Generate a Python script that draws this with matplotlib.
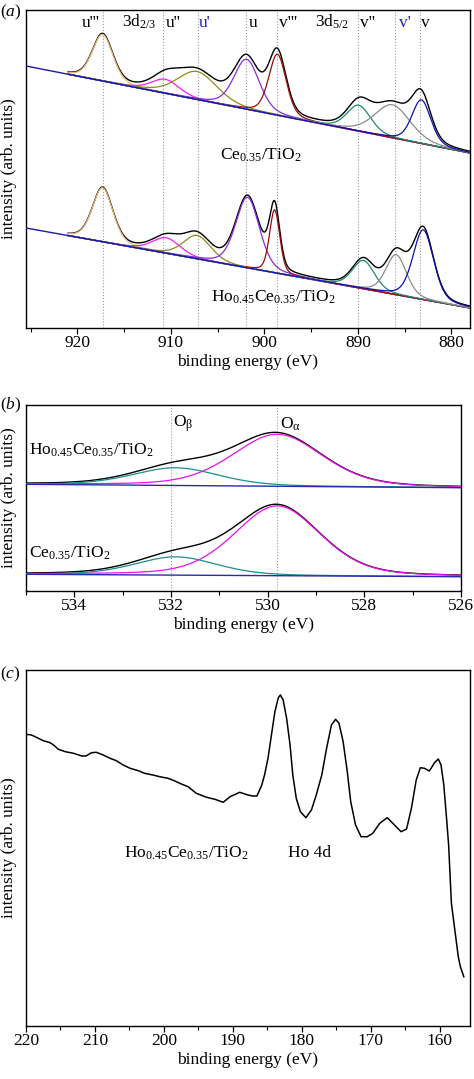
import numpy as np
import matplotlib.pyplot as plt
from matplotlib.ticker import MultipleLocator

plt.rcParams['font.family'] = ['Liberation Serif', 'DejaVu Serif']
plt.rcParams['mathtext.fontset'] = 'custom'
plt.rcParams['mathtext.rm'] = 'Liberation Serif'
plt.rcParams['mathtext.it'] = 'Liberation Serif:italic'
plt.rcParams['mathtext.bf'] = 'Liberation Serif:bold'

FS = 12.5

# ---- (a) Ce 3d: fitted components (centre eV, height, FWHM eV) ----
ce3d_names = ["u'''", "u''", "u'", "u", "v'''", "v''", "v'", "v"]
ce3d_colors = ['#ecb878', '#ff1aff', '#8c8c1e', '#8a2be2', '#9b0a0a', '#1e8c6a', '#8c8c8c', '#1010b0']
ce3d_lines = [917.3, 910.8, 907.1, 902.0, 898.6, 890.0, 886.0, 883.3]

ce_center = [917.3, 910.6, 907.2, 901.9, 898.6, 889.9, 886.3, 883.2]
ce_height = [46.6, 14, 28, 50, 61, 26, 33, 43.6]
ce_fwhm = [2.6, 3.5, 5.0, 3.2, 2.2, 3.0, 4.5, 2.4]
ce_base = [262, 175]          # background at 925.5 eV and 878 eV

ho_center = [917.3, 910.5, 907.2, 901.8, 898.9, 889.4, 885.9, 883.0]
ho_height = [54, 15.5, 23.4, 70.7, 63, 28.4, 40, 69.7]
ho_fwhm = [2.6, 3.5, 3.5, 3.0, 1.3, 2.8, 2.6, 2.6]
ho_base = [100, 20]

label_x = [918.6, 909.8, 906.4, 901.2, 897.5, 889.0, 885.0, 882.8]
label_col = ['k', 'k', '#1a1ad0', 'k', 'k', 'k', '#1a1ad0', 'k']

# ---- (b) O 1s ----
o1s_lines = [532.0, 529.8]
ho_o_center = [529.8, 531.9]
ho_o_height = [52, 17.7]
ho_o_fwhm = [2.2, 2.1]
ho_o_base = [106.7, 103.3]
ce_o_center = [529.8, 531.9]
ce_o_height = [69.8, 18.3]
ce_o_fwhm = [2.1, 2.0]
ce_o_base = [16.7, 14.3]
o1s_colors = ['#ee10ee', '#1f8f8a']

# ---- (c) Ho 4d raw spectrum ----
ho4d_energy = [220.0, 219.2, 218.2, 217.5, 216.5, 216.0, 215.3, 214.3, 213.1, 211.9,
               211.3, 210.5, 209.8, 208.8, 207.8, 206.9, 205.9, 204.9, 203.7, 202.8,
               201.6, 200.6, 199.4, 198.4, 197.7, 196.5, 195.3, 193.8, 192.6, 191.4,
               190.4, 189.0, 187.8, 187.1, 186.5, 185.8, 185.4, 184.9, 184.4, 183.9,
               183.4, 183.1, 182.7, 182.2, 181.7, 181.3, 180.8, 180.2, 179.4, 178.6,
               177.9, 177.1, 176.4, 175.7, 175.1, 174.6, 174.0, 173.4, 172.9, 172.2,
               171.4, 170.5, 169.7, 168.7, 167.6, 166.8, 165.6, 164.8, 164.1, 163.4,
               162.8, 162.2, 161.5, 160.7, 160.2, 159.8, 159.4, 159.0, 158.7, 158.3,
               157.8, 157.3, 157.0, 156.5]
ho4d_int = [291.7, 291.0, 287.7, 285.3, 283.3, 281.0, 276.7, 274.3, 272.7, 270.0,
            270.0, 273.3, 273.7, 271.0, 267.7, 265.3, 261.0, 257.7, 255.3, 252.7,
            251.0, 249.3, 247.7, 245.0, 242.7, 239.3, 232.7, 228.7, 226.7, 223.7,
            229.3, 233.7, 231.0, 230.0, 230.0, 241.0, 251.0, 267.7, 291.0, 314.3,
            328.3, 331.0, 326.0, 307.7, 281.0, 251.0, 227.7, 214.3, 208.3, 216.0,
            231.0, 251.0, 277.7, 301.0, 306.7, 302.7, 284.3, 254.3, 224.3, 201.0,
            189.3, 189.3, 192.7, 202.7, 208.3, 202.7, 194.3, 197.0, 217.7, 246.0,
            258.3, 257.7, 255.0, 263.7, 267.0, 261.0, 241.0, 207.7, 181.0, 123.0,
            96.0, 69.3, 59.3, 49.3]


def pv(x, c, h, w, eta=0.3):
    g = np.exp(-4 * np.log(2) * ((x - c) / w) ** 2)
    l = 1 / (1 + 4 * ((x - c) / w) ** 2)
    return h * ((1 - eta) * g + eta * l)


def style(ax):
    ax.set_yticks([])
    ax.tick_params(axis='x', which='major', direction='out', length=4, width=0.9,
                   labelsize=FS, pad=1)
    ax.tick_params(axis='x', which='minor', direction='out', length=3, width=0.8)
    for s in ax.spines.values():
        s.set_linewidth(1.0)
    ax.set_xlabel('binding energy (eV)', fontsize=FS, labelpad=2)
    ax.set_ylabel('intensity (arb. units)', fontsize=FS)


fig = plt.figure(figsize=(4.74, 10.79), dpi=100)
H = 1079.0
ax1 = fig.add_axes([26 / 474, 1 - 328 / H, 444 / 474, 318 / H])
ax2 = fig.add_axes([26 / 474, 1 - 591 / H, 435 / 474, 186 / H])
ax3 = fig.add_axes([26 / 474, 1 - 1026 / H, 444 / 474, 356 / H])

# ---- panel (a) ----
xa = np.linspace(925.5, 878, 800)
xf = np.linspace(921, 878, 700)
for xl in ce3d_lines:
    ax1.axvline(xl, color='#999999', ls=':', lw=0.8, zorder=1)
for cen, hgt, fw, base in [(ce_center, ce_height, ce_fwhm, ce_base),
                           (ho_center, ho_height, ho_fwhm, ho_base)]:
    bg = np.interp(xf, [878, 925.5], base[::-1])
    env = bg.copy()
    for c, h, w in zip(cen, hgt, fw):
        env += pv(xf, c, h, w)
    ax1.plot(xf, env, color='k', lw=1.0, zorder=2)
    ax1.plot(xa, np.interp(xa, [878, 925.5], base[::-1]), color='#1a1aa8', lw=1.0, zorder=3)
    for c, h, w, col in zip(cen, hgt, fw, ce3d_colors):
        ax1.plot(xf, bg + pv(xf, c, h, w), color=col, lw=0.9, zorder=4)

for name, lx, lc in zip(ce3d_names, label_x, label_col):
    ax1.text(lx, 305, name, color=lc, fontsize=FS, ha='center', va='center')
ax1.text(913.4, 306, r'3d$_{2/3}$', fontsize=FS, ha='center', va='center')
ax1.text(892.7, 306, r'3d$_{5/2}$', fontsize=FS, ha='center', va='center')
ax1.text(900.4, 173, r'Ce$_{0.35}$/TiO$_2$', fontsize=FS, ha='center', va='center')
ax1.text(899.1, 31, r'Ho$_{0.45}$Ce$_{0.35}$/TiO$_2$', fontsize=FS, ha='center', va='center')
ax1.set_xlim(925.5, 878)
ax1.set_ylim(0, 318)
ax1.set_xticks([920, 910, 900, 890, 880])
ax1.xaxis.set_minor_locator(MultipleLocator(5))
style(ax1)
ax1.yaxis.set_label_coords(-0.02, 0.5)

# ---- panel (b) ----
xb = np.linspace(535, 526, 500)
for xl in o1s_lines:
    ax2.axvline(xl, color='#999999', ls=':', lw=0.8, zorder=1)
for cen, hgt, fw, base in [(ho_o_center, ho_o_height, ho_o_fwhm, ho_o_base),
                           (ce_o_center, ce_o_height, ce_o_fwhm, ce_o_base)]:
    bg = np.interp(xb, [526, 535], base[::-1])
    env = bg.copy()
    for c, h, w in zip(cen, hgt, fw):
        env += pv(xb, c, h, w)
    ax2.plot(xb, env, color='k', lw=1.0, zorder=2)
    for c, h, w, col in zip(cen, hgt, fw, o1s_colors):
        ax2.plot(xb, bg + pv(xb, c, h, w), color=col, lw=0.9, zorder=3)
    ax2.plot(xb, bg, color='#2a2ab0', lw=1.0, zorder=4)

ax2.text(534.94, 141, r'Ho$_{0.45}$Ce$_{0.35}$/TiO$_2$', fontsize=FS, ha='left', va='center')
ax2.text(534.94, 38, r'Ce$_{0.35}$/TiO$_2$', fontsize=FS, ha='left', va='center')
ax2.text(531.75, 167, r'O$_{\mathrm{β}}$', fontsize=FS, ha='center', va='center')
ax2.text(529.53, 167, r'O$_{\mathrm{α}}$', fontsize=FS, ha='center', va='center')
ax2.set_xlim(535, 526)
ax2.set_ylim(0, 186)
ax2.set_xticks([534, 532, 530, 528, 526])
ax2.xaxis.set_minor_locator(MultipleLocator(1))
style(ax2)
ax2.yaxis.set_label_coords(-0.021, 0.5)

# ---- panel (c) ----
ax3.plot(ho4d_energy, ho4d_int, color='k', lw=1.1)
ax3.text(196.8, 173, r'Ho$_{0.45}$Ce$_{0.35}$/TiO$_2$', fontsize=FS, ha='center', va='center')
ax3.text(178.8, 173, 'Ho 4d', fontsize=FS, ha='center', va='center')
ax3.set_xlim(220, 155.6)
ax3.set_ylim(0, 356)
ax3.set_xticks([220, 210, 200, 190, 180, 170, 160])
ax3.xaxis.set_minor_locator(MultipleLocator(5))
style(ax3)
ax3.yaxis.set_label_coords(-0.02, 0.5)

# panel letters
for y, letter in [(12, 'a'), (405, 'b'), (674, 'c')]:
    fig.text(0.0, 1 - y / H, '($\\it{' + letter + '}$)', fontsize=FS,
             ha='left', va='center')

fig.savefig('out.png', dpi=100)
